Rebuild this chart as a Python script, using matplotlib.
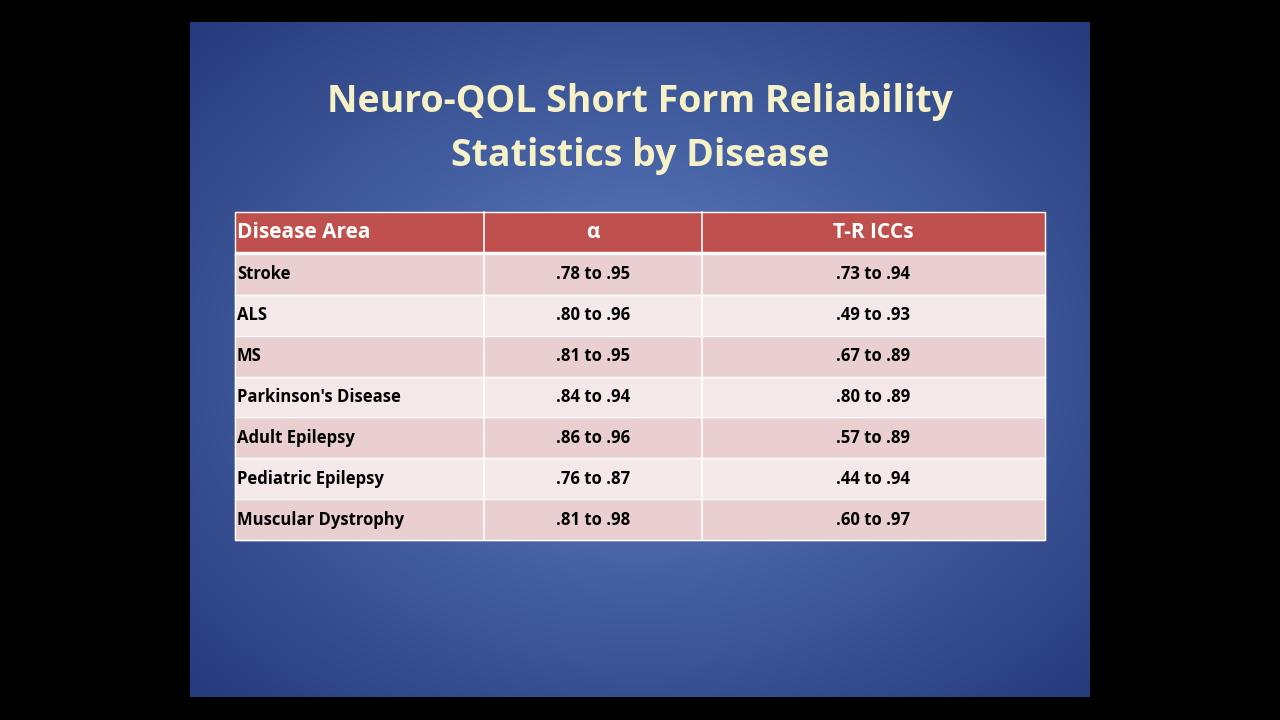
import numpy as np
import matplotlib
matplotlib.use("Agg")
import matplotlib.pyplot as plt
from matplotlib.patches import Rectangle

title_lines = ["Neuro-QOL Short Form Reliability", "Statistics by Disease"]
headers = ["Disease Area", "α", "T-R ICCs"]
diseases = ["Stroke", "ALS", "MS", "Parkinson's Disease", "Adult Epilepsy",
            "Pediatric Epilepsy", "Muscular Dystrophy"]
alpha = [".78 to .95", ".80 to .96", ".81 to .95", ".84 to .94", ".86 to .96",
         ".76 to .87", ".81 to .98"]
icc = [".73 to .94", ".49 to .93", ".67 to .89", ".80 to .89", ".57 to .89",
       ".44 to .94", ".60 to .97"]

fig = plt.figure(figsize=(12.8, 7.2), dpi=100, facecolor="black")
ax = fig.add_axes([0, 0, 1, 1])
ax.set_xlim(0, 1280); ax.set_ylim(720, 0); ax.axis("off")
ax.add_patch(Rectangle((0, 0), 1280, 720, color="black"))

# slide radial gradient
sx0, sx1, sy0, sy1 = 190, 1090, 22, 697
yy, xx = np.mgrid[0:1:300j, 0:1:400j]
r = np.sqrt(((xx - 0.5) / 0.75) ** 2 + ((yy - 0.5) / 0.75) ** 2)
r = np.clip(r, 0, 1)
c_in = np.array([0x60, 0x82, 0xc4]) / 255
c_out = np.array([0x22, 0x36, 0x78]) / 255
img = c_in[None, None, :] * (1 - r[..., None]) + c_out[None, None, :] * r[..., None]
ax.imshow(img, extent=(sx0, sx1, sy1, sy0), aspect="auto", zorder=1, interpolation="bilinear")

for i, t in enumerate(title_lines):
    ax.text(640, 102 + i * 54, t, ha="center", va="center", fontsize=27,
            fontweight="bold", color="#f6f1c6", family="Open Sans", zorder=3)

cols = [235, 484, 702, 1045]
hy0, hy1 = 212, 252
ax.add_patch(Rectangle((cols[0], hy0), cols[-1] - cols[0], hy1 - hy0, color="#c0504d", zorder=2))
ax.add_patch(Rectangle((cols[0], hy1), cols[-1] - cols[0], 2, color="white", zorder=2))
for j, h in enumerate(headers):
    if j == 0:
        ax.text(cols[0] + 2, (hy0 + hy1) / 2, h, ha="left", va="center", fontsize=15,
                fontweight="bold", color="white", family="Open Sans", zorder=3)
    else:
        ax.text((cols[j] + cols[j + 1]) / 2, (hy0 + hy1) / 2, h, ha="center", va="center",
                fontsize=15, fontweight="bold", color="white", family="Open Sans", zorder=3)

ry0 = 254
rh = (540 - ry0) / len(diseases)
for i, (d, a, c) in enumerate(zip(diseases, alpha, icc)):
    y = ry0 + i * rh
    ax.add_patch(Rectangle((cols[0], y), cols[-1] - cols[0], rh,
                           color="#e9cfcf" if i % 2 == 0 else "#f4e8e8", zorder=2))
    yc = y + rh / 2
    ax.text(cols[0] + 2, yc, d, ha="left", va="center", fontsize=12, fontweight="bold",
            color="black", family="Open Sans", zorder=3)
    ax.text((cols[1] + cols[2]) / 2, yc, a, ha="center", va="center", fontsize=12,
            fontweight="bold", color="black", family="Open Sans", zorder=3)
    ax.text((cols[2] + cols[3]) / 2, yc, c, ha="center", va="center", fontsize=12,
            fontweight="bold", color="black", family="Open Sans", zorder=3)
    ax.plot([cols[0], cols[-1]], [y, y], color="white", lw=1, zorder=3)
for x in cols[1:3]:
    ax.plot([x, x], [hy0, 540], color="white", lw=1.2, zorder=3)
ax.add_patch(Rectangle((cols[0], hy0), cols[-1] - cols[0], 540 - hy0, fill=False,
                       ec="white", lw=1, zorder=4))

fig.savefig("out.png", dpi=100, facecolor="black")
